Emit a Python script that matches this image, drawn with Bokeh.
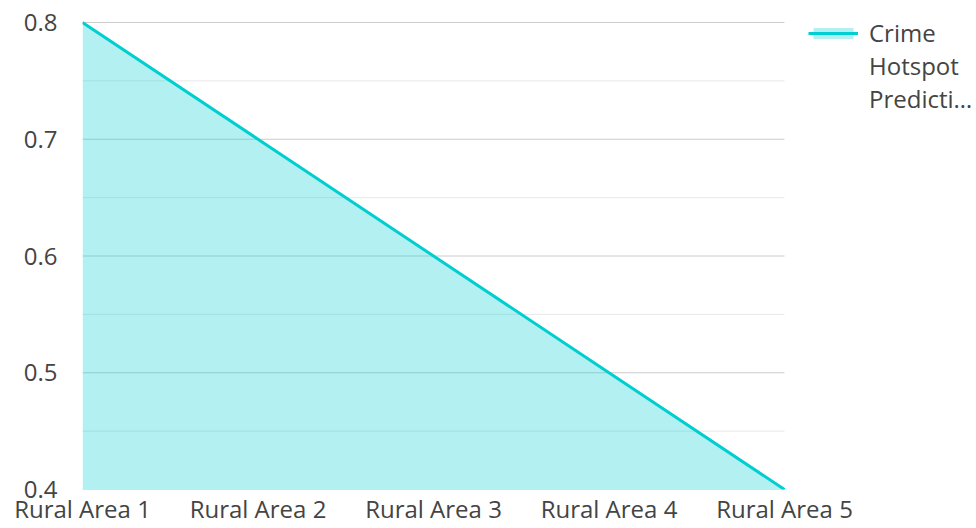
from bokeh.plotting import figure
from bokeh.models import ColumnDataSource, FixedTicker, Legend, LegendItem, Range1d
from bokeh.embed import file_html
from bokeh.resources import INLINE

categories = ["Rural Area 1", "Rural Area 2", "Rural Area 3", "Rural Area 4", "Rural Area 5"]
values = [0.8, 0.7, 0.6, 0.5, 0.4]
legend_lines = ["Crime", "Hotspot", "Predicti…"]
y_major = [0.4, 0.5, 0.6, 0.7, 0.8]
y_minor = [0.45, 0.55, 0.65, 0.75]

color = "#00CED1"
text_color = "#444444"
n = len(categories)
xs = list(range(n))
src = ColumnDataSource(dict(x=xs, y=values, base=[min(y_major)] * n))

# layout geometry (pixels): data area 82..784 wide, 22..489 tall; frame extends right for the legend
PLOT_W, DATA_W, DATA_H, TOP_PAD = 894, 702, 467, 4
y_lo, y_hi = min(y_major), max(y_major)
y_pad = (y_hi - y_lo) * TOP_PAD / DATA_H

p = figure(width=976, height=528, output_backend="svg", toolbar_location=None,
           x_range=Range1d(0, (n - 1) * PLOT_W / DATA_W),
           y_range=Range1d(y_lo, y_hi + y_pad),
           min_border_left=82, min_border_right=0, min_border_top=18, min_border_bottom=39)
p.outline_line_color = None
p.background_fill_color = "white"
p.border_fill_color = "white"

# horizontal grid lines limited to the data area
p.segment(x0=[0] * len(y_minor), x1=[n - 1] * len(y_minor), y0=y_minor, y1=y_minor,
          line_color="#e8e8e8", line_width=1)
p.segment(x0=[0] * len(y_major), x1=[n - 1] * len(y_major), y0=y_major, y1=y_major,
          line_color="#cccccc", line_width=1)

a = p.varea(x="x", y1="base", y2="y", source=src, fill_color=color, fill_alpha=0.3)
l = p.line(x="x", y="y", source=src, line_color=color, line_width=3)
dummy = p.line(x=[], y=[], line_alpha=0)

p.xaxis.ticker = FixedTicker(ticks=xs)
p.xaxis.major_label_overrides = {i: c for i, c in enumerate(categories)}
p.yaxis.ticker = FixedTicker(ticks=y_major, minor_ticks=y_minor)
p.yaxis.major_label_overrides = {v: f"{v:.1f}" for v in y_major}

for ax in (p.xaxis[0], p.yaxis[0]):
    ax.axis_line_color = None
    ax.major_tick_line_color = None
    ax.minor_tick_line_color = None
    ax.major_tick_out = 0
    ax.minor_tick_out = 0
    ax.major_tick_in = 0
    ax.minor_tick_in = 0
    ax.major_label_text_font = "Open Sans"
    ax.major_label_text_font_size = "24px"
    ax.major_label_text_color = text_color
p.xaxis.major_label_standoff = 2
p.yaxis.major_label_standoff = 25

p.xgrid.grid_line_color = None
p.ygrid.grid_line_color = None

items = [LegendItem(label=legend_lines[0], renderers=[a, l])]
items += [LegendItem(label=t, renderers=[dummy]) for t in legend_lines[1:]]
legend = Legend(items=items, location=(DATA_W + 24, 374),
                border_line_color=None, background_fill_alpha=0,
                label_text_font="Open Sans", label_text_font_size="24px",
                label_text_color=text_color, glyph_width=50, glyph_height=14,
                label_height=32, padding=0, margin=0, spacing=0, label_standoff=11)
p.add_layout(legend, "center")

open("out.html", "w").write(file_html(p, INLINE))
